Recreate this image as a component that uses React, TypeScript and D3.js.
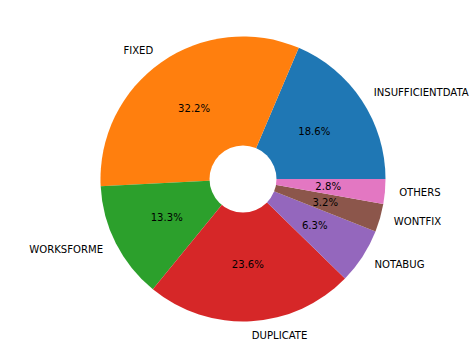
import React from "react";
import * as d3 from "d3";

const categories = ["INSUFFICIENTDATA", "FIXED", "WORKSFORME", "DUPLICATE", "NOTABUG", "WONTFIX", "OTHERS"];
const values = [18.6, 32.2, 13.3, 23.6, 6.3, 3.2, 2.8];
const colors = ["#1f77b4", "#ff7f0e", "#2ca02c", "#d62728", "#9467bd", "#8c564b", "#e377c2"];

const W = 474;
const H = 355;
const cx = 243;
const cy = 179;
const R = 142.5;
const holeR = 33.5;
const fontSize = 10.1;

export default function App() {
  const pie = d3
    .pie<number>()
    .sort(null)
    .value((d) => d)
    .startAngle(Math.PI / 2)
    .endAngle(Math.PI / 2 - 2 * Math.PI);
  const arcs = pie(values);
  const arc = d3.arc<d3.PieArcDatum<number>>().innerRadius(0).outerRadius(R);

  return (
    <svg width={W} height={H} style={{ position: "absolute", left: 0, top: 0 }}>
      <rect width={W} height={H} fill="#fff" />
      <g transform={`translate(${cx},${cy})`}>
        {arcs.map((a, i) => (
          <path key={i} d={arc(a) || ""} fill={colors[i]} />
        ))}
        <circle r={holeR} fill="#fff" />
        {arcs.map((a, i) => {
          const mid = (a.startAngle + a.endAngle) / 2; // d3 angle
          const theta = Math.PI / 2 - mid; // math angle CCW from +x
          const lx = 1.1 * R * Math.cos(theta);
          const ly = -1.1 * R * Math.sin(theta);
          const px = 0.6 * R * Math.cos(theta);
          const py = -0.6 * R * Math.sin(theta);
          return (
            <g key={"t" + i} fontFamily="DejaVu Sans" fontSize={fontSize} fill="#000">
              <text
                x={lx}
                y={ly}
                textAnchor={Math.cos(theta) >= 0 ? "start" : "end"}
                dominantBaseline="central"
              >
                {categories[i]}
              </text>
              <text x={px} y={py} textAnchor="middle" dominantBaseline="central">
                {values[i].toFixed(1) + "%"}
              </text>
            </g>
          );
        })}
      </g>
    </svg>
  );
}
